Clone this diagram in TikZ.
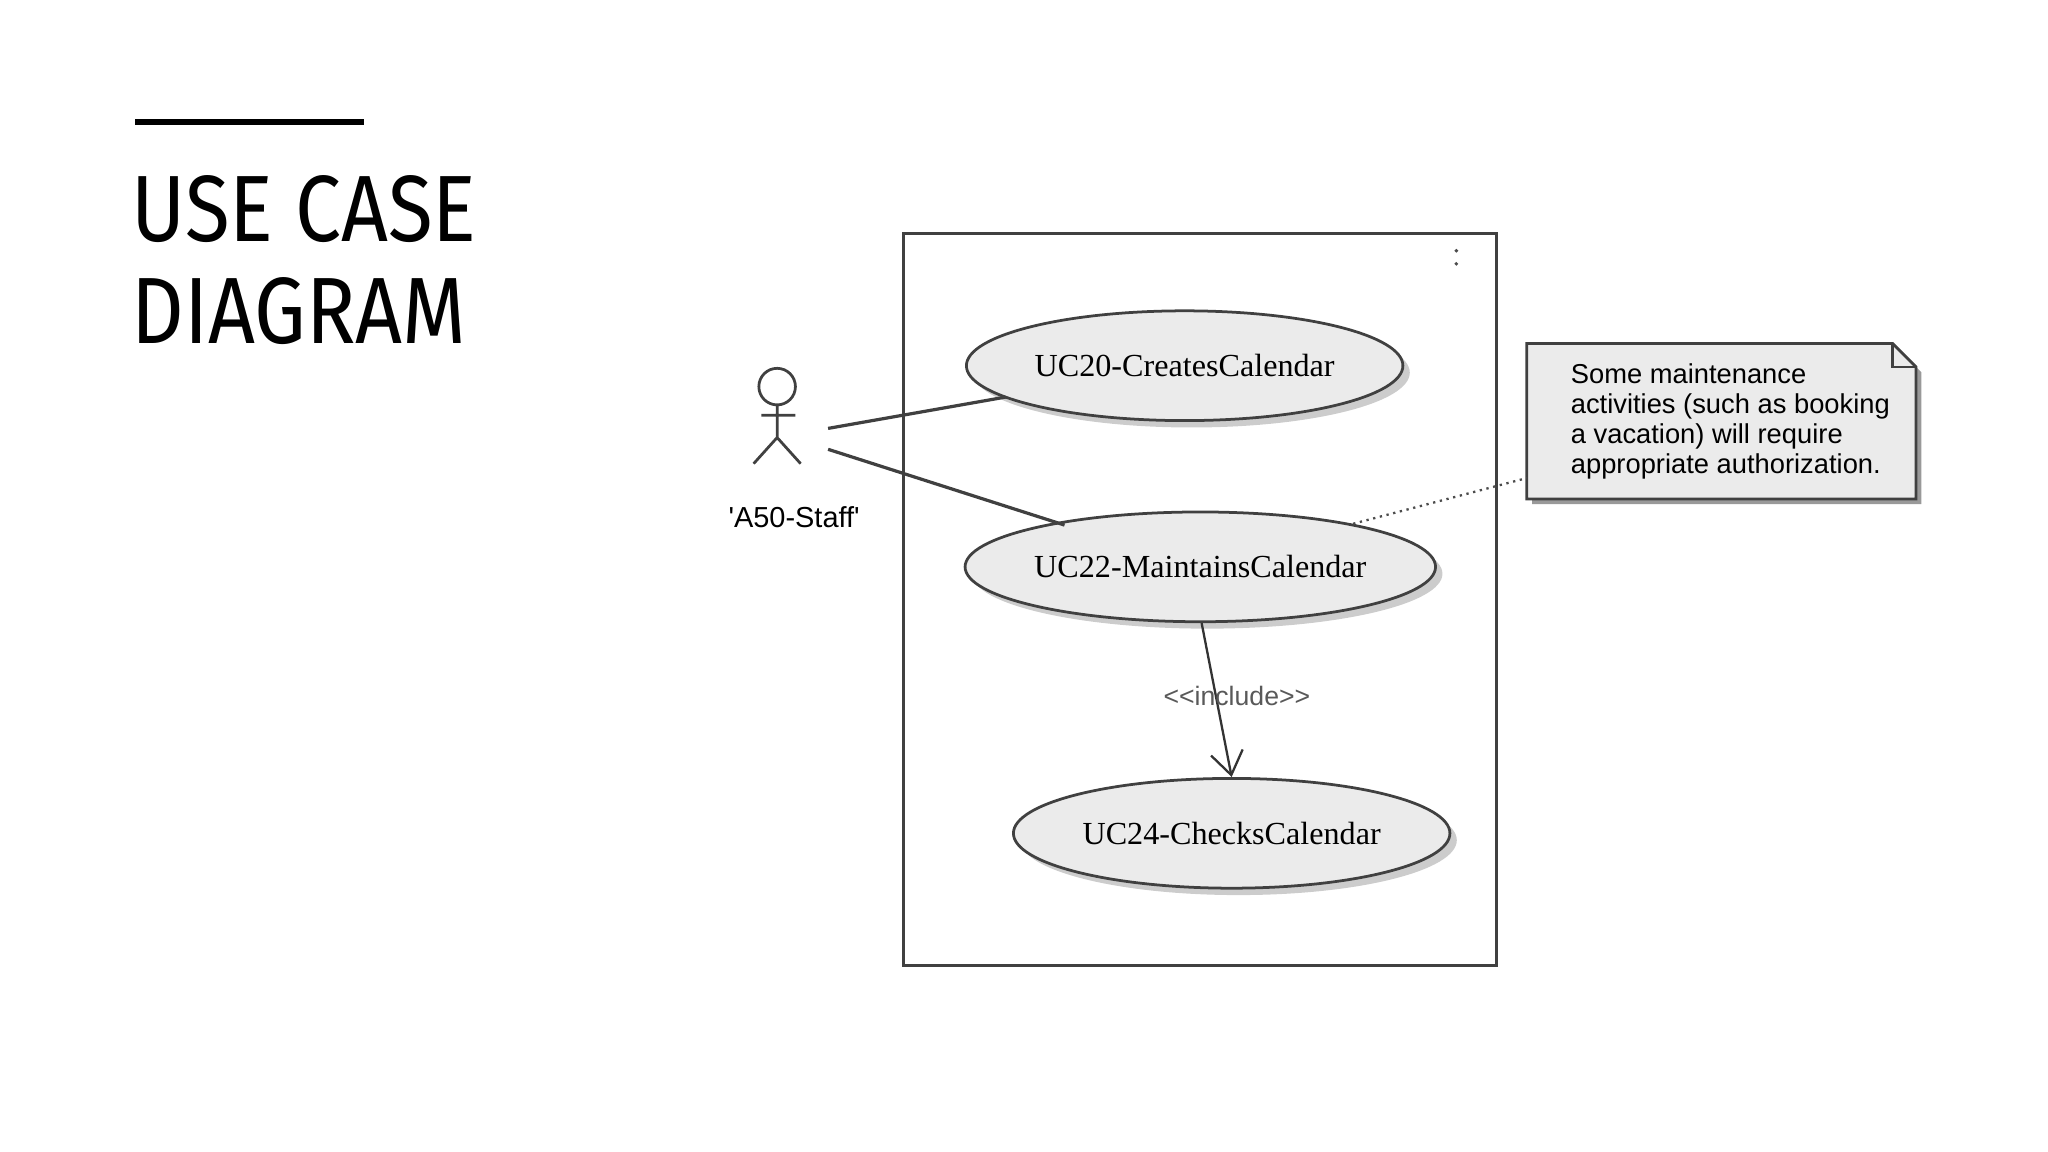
\documentclass[tikz,border=0pt]{standalone}
\usepackage{fontspec}
\setmainfont{Liberation Serif}
\newfontfamily\titlefont[FakeStretch=0.87]{Fira Sans}
\newfontfamily\notefont{Liberation Sans}
\usetikzlibrary{shadows,arrows.meta,shapes.geometric}
\begin{document}
\begin{tikzpicture}[x=0.01cm,y=-0.01cm,
  uc/.style={ellipse,draw=black!75,line width=0.6pt,fill=black!8,minimum height=0.84cm,inner sep=0pt,
     drop shadow={shadow xshift=1.5pt,shadow yshift=-1.5pt,fill=black!40},font=\fontsize{7}{8}\selectfont},
  link/.style={draw=black!75,line width=0.7pt}]
\useasboundingbox (0,0) rectangle (1568,882);
\fill[black] (103,91) rectangle (279,96);
\node[anchor=base west,inner sep=0,font=\titlefont\fontsize{20.5}{22}\selectfont] (t1) at (100,185) {USE CASE};
\node[anchor=base west,inner sep=0,font=\titlefont\fontsize{20.5}{22}\selectfont] (t2) at (100,263) {DIAGRAM};
\draw[black!75,line width=0.6pt] (692,179) rectangle (1146,739);
\fill[black!70] (1115,192) circle (1.5) (1115,202) circle (1.5);
\node[uc,minimum width=3.34cm] (u20) at (907,280) {UC20-CreatesCalendar};
\node[uc,minimum width=3.6cm] (u22) at (919,434) {UC22-MaintainsCalendar};
\node[uc,minimum width=3.34cm] (u24) at (943,638) {UC24-ChecksCalendar};
% actor
\draw[black!75,line width=0.6pt] (595,296) circle (14) (595,310)--(595,335) (583,318)--(609,318)
  (577,355)--(595,335)--(613,355);
\node[font=\notefont\fontsize{6.3}{7}\selectfont] (a) at (608,396) {'A50-Staff'};
\coordinate (a1) at (634,328); \coordinate (a2) at (634,344);
\draw[link] (a1) -- (770,304);
\draw[link] (a2) -- (815,402);
\draw[black!80,line width=0.5pt,-{Straight Barb[length=5pt,width=7pt]}] (920,477) -- (u24.north);
\node[text=black!65,inner sep=1pt,font=\notefont\fontsize{5.8}{7}\selectfont] (inc) at (947,533) {<<include>>};
% note
\fill[black!40] (1173,267) -- (1453,267) -- (1471,285) -- (1471,386) -- (1173,386) -- cycle;
\draw[black!75,fill=black!8,line width=0.6pt] (1169,263) -- (1449,263) -- (1467,281) -- (1467,382) -- (1169,382) -- cycle;
\draw[black!75,line width=0.6pt] (1449,263) -- (1449,281) -- (1467,281);
\node[anchor=north west,align=left,inner sep=0,font=\notefont\fontsize{5.95}{6.5}\selectfont] (note) at (1202,278)
 {Some maintenance\\activities (such as booking\\a vacation) will require\\appropriate authorization.};
\coordinate (nc) at (1169,366);
\draw[black!70,densely dotted,line width=0.5pt] (1036,401) -- (nc);
\end{tikzpicture}
\end{document}
